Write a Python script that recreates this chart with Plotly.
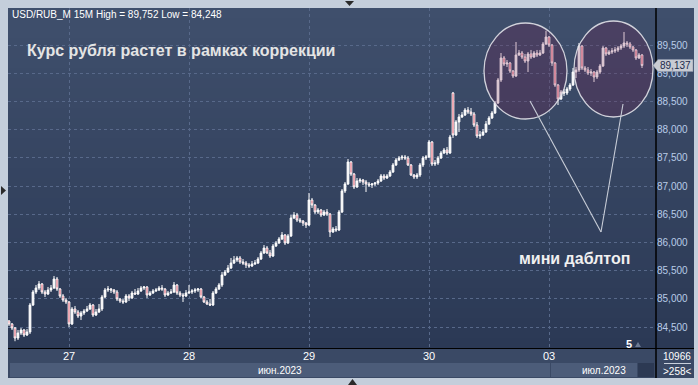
import plotly.graph_objects as go

# ---------------- data (USD/RUB_M, 15M candles) ----------------
opens = [
    84.607, 84.554, 84.483, 84.305, 84.394, 84.447, 84.358, 84.412, 84.890, 85.121,
    85.192, 85.263, 85.121, 85.085, 85.156, 85.192, 85.351, 85.174, 85.050, 84.979,
    84.944, 84.554, 84.819, 84.766, 84.695, 84.749, 84.784, 84.819, 84.890, 84.713,
    84.766, 84.819, 85.032, 85.156, 85.174, 85.156, 85.121, 84.997, 84.961, 84.944,
    85.050, 85.015, 85.103, 85.085, 85.139, 85.192, 85.210, 85.068, 85.103, 85.139,
    85.156, 85.192, 85.174, 85.068, 85.103, 85.121, 85.245, 85.103, 85.068, 85.050,
    85.103, 85.121, 85.139, 85.156, 85.174, 85.032, 84.944, 84.908, 84.890, 85.103,
    85.174, 85.245, 85.422, 85.475, 85.546, 85.635, 85.688, 85.724, 85.653, 85.635,
    85.600, 85.582, 85.617, 85.635, 85.706, 85.812, 85.901, 85.812, 85.759, 85.936,
    85.990, 86.061, 86.131, 85.990, 86.114, 86.433, 86.486, 86.397, 86.380, 86.344,
    86.309, 86.752, 86.663, 86.539, 86.575, 86.486, 86.539, 86.504, 86.185, 86.238,
    86.220, 86.539, 86.912, 87.036, 87.426, 87.213, 86.983, 87.089, 87.107, 87.071,
    87.036, 87.018, 87.036, 87.053, 87.089, 87.178, 87.142, 87.178, 87.248, 87.373,
    87.461, 87.497, 87.514, 87.497, 87.373, 87.195, 87.160, 87.195, 87.373, 87.497,
    87.514, 87.780, 87.390, 87.408, 87.497, 87.585, 87.639, 87.585, 88.649, 87.905,
    88.135, 88.224, 88.259, 88.348, 88.312, 88.277, 88.082, 87.887, 87.905, 87.958,
    88.100, 88.206, 88.295, 88.472, 88.880, 89.270, 89.163, 89.181, 89.039, 88.951,
    89.323, 89.358, 89.287, 89.216, 89.341, 89.287, 89.358, 89.323, 89.358, 89.518,
    89.642, 89.500, 89.181, 88.791, 88.543, 88.667, 88.649, 88.720, 88.791, 89.021,
    89.057, 89.482, 89.092, 89.057, 89.004, 89.021, 88.933, 89.021, 89.128, 89.447,
    89.341, 89.376, 89.394, 89.412, 89.447, 89.482, 89.536, 89.518, 89.465, 89.412,
    89.270, 89.323,
]
highs = [
    84.624, 84.571, 84.500, 84.447, 84.483, 84.465, 84.465, 84.926, 85.156, 85.245,
    85.316, 85.280, 85.156, 85.210, 85.245, 85.405, 85.387, 85.192, 85.085, 85.015,
    84.961, 84.855, 84.873, 84.802, 84.784, 84.819, 84.873, 84.926, 84.908, 84.819,
    84.908, 85.068, 85.192, 85.227, 85.192, 85.174, 85.156, 85.015, 84.997, 85.085,
    85.085, 85.139, 85.174, 85.192, 85.227, 85.227, 85.227, 85.139, 85.174, 85.192,
    85.227, 85.245, 85.192, 85.139, 85.174, 85.298, 85.263, 85.139, 85.103, 85.156,
    85.245, 85.174, 85.192, 85.192, 85.192, 85.050, 84.979, 84.997, 85.139, 85.210,
    85.280, 85.475, 85.511, 85.600, 85.724, 85.759, 85.759, 85.759, 85.706, 85.670,
    85.635, 85.670, 85.688, 85.741, 85.848, 85.954, 85.936, 85.866, 85.972, 86.025,
    86.096, 86.185, 86.149, 86.149, 86.486, 86.539, 86.522, 86.433, 86.397, 86.362,
    86.876, 86.788, 86.681, 86.610, 86.592, 86.575, 86.592, 86.522, 86.273, 86.291,
    86.575, 86.947, 87.071, 87.479, 87.444, 87.231, 87.142, 87.142, 87.124, 87.107,
    87.071, 87.053, 87.071, 87.124, 87.213, 87.213, 87.213, 87.284, 87.408, 87.497,
    87.532, 87.550, 87.550, 87.532, 87.390, 87.213, 87.231, 87.408, 87.532, 87.550,
    87.816, 87.798, 87.461, 87.532, 87.621, 87.674, 87.692, 87.905, 88.667, 88.170,
    88.277, 88.312, 88.383, 88.401, 88.383, 88.312, 88.135, 87.975, 88.011, 88.153,
    88.241, 88.330, 88.507, 88.915, 89.358, 89.305, 89.234, 89.199, 89.057, 89.553,
    89.412, 89.394, 89.341, 89.376, 89.412, 89.394, 89.412, 89.412, 89.553, 89.752,
    89.660, 89.518, 89.199, 88.809, 88.702, 88.720, 88.755, 88.826, 89.092, 89.110,
    89.536, 89.500, 89.128, 89.110, 89.075, 89.039, 89.057, 89.163, 89.482, 89.465,
    89.412, 89.447, 89.465, 89.482, 89.518, 89.731, 89.571, 89.553, 89.482, 89.429,
    89.358, 89.341,
]
lows = [
    84.518, 84.447, 84.248, 84.270, 84.358, 84.323, 84.341, 84.376, 84.873, 85.085,
    85.156, 85.085, 85.032, 85.068, 85.121, 85.174, 85.139, 85.015, 84.944, 84.908,
    84.500, 84.536, 84.731, 84.660, 84.624, 84.713, 84.766, 84.802, 84.678, 84.695,
    84.749, 84.784, 85.015, 85.121, 85.103, 85.085, 84.961, 84.926, 84.908, 84.926,
    84.961, 84.997, 85.068, 85.068, 85.121, 85.156, 85.015, 85.050, 85.085, 85.121,
    85.139, 85.139, 85.032, 85.050, 85.085, 85.103, 85.068, 85.032, 84.944, 85.032,
    85.085, 85.085, 85.103, 85.121, 85.015, 84.926, 84.890, 84.873, 84.873, 85.085,
    85.156, 85.210, 85.405, 85.458, 85.529, 85.617, 85.653, 85.617, 85.600, 85.546,
    85.546, 85.564, 85.600, 85.617, 85.688, 85.795, 85.795, 85.724, 85.741, 85.919,
    85.972, 86.043, 85.954, 85.972, 86.096, 86.415, 86.362, 86.344, 86.291, 86.256,
    86.291, 86.610, 86.504, 86.504, 86.451, 86.468, 86.468, 86.096, 86.167, 86.185,
    86.202, 86.522, 86.876, 87.018, 87.178, 86.947, 86.965, 87.053, 87.018, 86.894,
    86.983, 86.965, 87.000, 87.018, 87.071, 87.107, 87.124, 87.160, 87.231, 87.355,
    87.444, 87.461, 87.461, 87.355, 87.178, 87.124, 87.124, 87.160, 87.337, 87.461,
    87.497, 87.355, 87.355, 87.373, 87.479, 87.568, 87.550, 87.568, 87.851, 87.887,
    87.958, 88.206, 88.241, 88.277, 88.241, 88.046, 87.851, 87.834, 87.887, 87.940,
    88.082, 88.188, 88.277, 88.454, 88.844, 89.128, 89.110, 89.004, 88.915, 88.933,
    89.305, 89.252, 89.181, 89.021, 89.252, 89.270, 89.287, 89.305, 89.341, 89.500,
    89.465, 89.128, 88.756, 88.436, 88.525, 88.596, 88.614, 88.685, 88.773, 88.915,
    89.021, 89.057, 89.021, 88.968, 88.951, 88.844, 88.897, 88.986, 89.110, 89.305,
    89.323, 89.341, 89.358, 89.376, 89.412, 89.447, 89.465, 89.429, 89.376, 89.234,
    89.252, 89.092,
]
closes = [
    84.554, 84.483, 84.305, 84.394, 84.447, 84.358, 84.412, 84.890, 85.121, 85.192,
    85.263, 85.121, 85.085, 85.156, 85.192, 85.351, 85.174, 85.050, 84.979, 84.944,
    84.554, 84.819, 84.766, 84.695, 84.749, 84.784, 84.819, 84.890, 84.713, 84.766,
    84.819, 85.032, 85.156, 85.174, 85.156, 85.121, 84.997, 84.961, 84.944, 85.050,
    85.015, 85.103, 85.085, 85.139, 85.192, 85.210, 85.068, 85.103, 85.139, 85.156,
    85.192, 85.174, 85.068, 85.103, 85.121, 85.245, 85.103, 85.068, 85.050, 85.103,
    85.121, 85.139, 85.156, 85.174, 85.032, 84.944, 84.908, 84.890, 85.103, 85.174,
    85.245, 85.422, 85.475, 85.546, 85.635, 85.688, 85.724, 85.653, 85.635, 85.600,
    85.582, 85.617, 85.635, 85.706, 85.812, 85.901, 85.812, 85.759, 85.936, 85.990,
    86.061, 86.131, 85.990, 86.114, 86.433, 86.486, 86.397, 86.380, 86.344, 86.309,
    86.752, 86.663, 86.539, 86.575, 86.486, 86.539, 86.504, 86.185, 86.238, 86.220,
    86.539, 86.912, 87.036, 87.426, 87.213, 86.983, 87.089, 87.107, 87.071, 87.036,
    87.018, 87.036, 87.053, 87.089, 87.178, 87.142, 87.178, 87.248, 87.373, 87.461,
    87.497, 87.514, 87.497, 87.373, 87.195, 87.160, 87.195, 87.373, 87.497, 87.514,
    87.780, 87.390, 87.408, 87.497, 87.585, 87.639, 87.585, 87.869, 87.905, 88.135,
    88.224, 88.259, 88.348, 88.312, 88.277, 88.082, 87.887, 87.905, 87.958, 88.100,
    88.206, 88.295, 88.472, 88.880, 89.270, 89.163, 89.181, 89.039, 88.951, 89.323,
    89.358, 89.287, 89.216, 89.341, 89.287, 89.358, 89.323, 89.358, 89.518, 89.642,
    89.500, 89.181, 88.791, 88.543, 88.667, 88.649, 88.720, 88.791, 89.021, 89.057,
    89.482, 89.092, 89.057, 89.004, 89.021, 88.933, 89.021, 89.128, 89.447, 89.341,
    89.376, 89.394, 89.412, 89.447, 89.482, 89.536, 89.518, 89.465, 89.412, 89.270,
    89.323, 89.137,
]
candle_idx = list(range(len(closes)))

day_start = [20, 60, 100, 140, 180]
day_labels = ["27", "28", "29", "30", "03"]
month_labels = ["июн.2023", "июл.2023"]
y_ticks = [84.5, 85.0, 85.5, 86.0, 86.5, 87.0, 87.5, 88.0, 88.5, 89.0, 89.5]
header = "USD/RUB_M 15M High = 89,752 Low = 84,248"
caption = "Курс рубля растет в рамках коррекции"
pattern_label = "мини даблтоп"
bar_count = "10966"
visible_count = ">258<"
page_no = "5"

# ---------------- layout helpers (pixel -> paper) ----------------
W, H = 698, 385
ML, MR, MT, MB = 8, 42, 8, 37
PW, PH = W - ML - MR, H - MT - MB


def fx(x):
    return (x - ML) / PW


def fy(y):
    return (H - MB - y) / PH


FONT = "Liberation Sans, Arial, sans-serif"
shapes = []


def rect(x0, y0, x1, y1, color, layer="below"):
    shapes.append(dict(type="rect", xref="paper", yref="paper",
                       x0=fx(x0), x1=fx(x1), y0=fy(y1), y1=fy(y0),
                       fillcolor=color, line=dict(width=0), layer=layer))


def seg(x0, y0, x1, y1, color, width=1, layer="above"):
    shapes.append(dict(type="line", xref="paper", yref="paper",
                       x0=fx(x0), x1=fx(x1), y0=fy(y0), y1=fy(y1),
                       line=dict(color=color, width=width), layer=layer))


def tri(pts, color):
    d = "M " + " L ".join(f"{fx(a):.5f},{fy(b):.5f}" for a, b in pts) + " Z"
    shapes.append(dict(type="path", xref="paper", yref="paper", path=d,
                       fillcolor=color, line=dict(width=0), layer="above"))


# gradient background for plot area + right axis panel
top_c, bot_c = (63, 79, 108), (43, 57, 85)
n = 34
for k in range(n):
    t = k / (n - 1)
    c = tuple(round(top_c[j] + (bot_c[j] - top_c[j]) * t) for j in range(3))
    y0 = MT + k * PH / n
    rect(ML, y0, 694, y0 + PH / n + 0.6, f"rgb{c}")

# bottom axis panel
rect(ML, 348, 694, 378, "#3a4965")
rect(10, 363, 550, 377, "#4c5c79")
rect(551, 363, 637, 377, "#4c5c79")
rect(638, 363, 654, 377, "#2c3953")

# frame lines
seg(656, 8, 656, 378, "#000000", 1.5)
seg(ML, 348.5, 694, 348.5, "#000000", 1.2)
seg(664, 363.5, 691, 363.5, "#c8d0dc", 1)

# circles (double top) and pointer lines
for (cx0, cy0, cx1, cy1) in [(484, 23, 567, 119), (574, 21, 653, 117)]:
    shapes.append(dict(type="circle", xref="paper", yref="paper",
                       x0=fx(cx0), x1=fx(cx1), y0=fy(cy1), y1=fy(cy0),
                       fillcolor="rgba(120,20,70,0.22)",
                       line=dict(color="rgba(225,225,232,0.9)", width=1.3),
                       layer="above"))
seg(530, 101, 601, 232, "#c9ced8", 1.1)
seg(623, 104, 601, 232, "#c9ced8", 1.1)

# small navigation triangles
tri([(345, 1), (354, 1), (349.5, 6)], "#2a2a2a")
tri([(348, 385), (357, 385), (352.5, 379)], "#2a2a2a")
tri([(1, 186), (1, 195), (6, 190.5)], "#2a2a2a")
tri([(635, 347), (641, 347), (638, 342)], "#6c7a93")

# last price tag (tied to data)
last = closes[-1]
ppx = (90.156 - 84.128) / PH  # price per pixel
shapes.append(dict(type="path", xref="paper", yref="y",
                   path=(f"M {fx(653):.5f},{last:.4f} L {fx(658):.5f},{last + 6 * ppx:.4f} "
                         f"L {fx(693):.5f},{last + 6 * ppx:.4f} L {fx(693):.5f},{last - 6 * ppx:.4f} "
                         f"L {fx(658):.5f},{last - 6 * ppx:.4f} Z"),
                   fillcolor="#c9ccd3", line=dict(color="#8c96aa", width=0.6), layer="above"))

annotations = [
    dict(x=fx(10), y=fy(14.5), text=header, xanchor="left", yanchor="middle",
         font=dict(family=FONT, size=10, color="#ffffff")),
    dict(x=fx(25), y=fy(50), text=caption, xanchor="left", yanchor="middle",
         font=dict(family=FONT, size=16, color="#e4e4e4", weight="bold")),
    dict(x=fx(517), y=fy(258), text=pattern_label, xanchor="left", yanchor="middle",
         font=dict(family=FONT, size=16, color="#f0f0f0", weight="bold")),
    dict(x=fx(280), y=fy(370.5), text=month_labels[0], xanchor="center", yanchor="middle",
         font=dict(family=FONT, size=10, color="#ffffff")),
    dict(x=fx(604), y=fy(370.5), text=month_labels[1], xanchor="center", yanchor="middle",
         font=dict(family=FONT, size=10, color="#ffffff")),
    dict(x=fx(677), y=fy(357), text=bar_count, xanchor="center", yanchor="middle",
         font=dict(family=FONT, size=10, color="#ffffff")),
    dict(x=fx(677), y=fy(371), text=visible_count, xanchor="center", yanchor="middle",
         font=dict(family=FONT, size=10, color="#ffffff")),
    dict(x=fx(629), y=fy(344), text=page_no, xanchor="center", yanchor="middle",
         font=dict(family=FONT, size=11, color="#ffffff", weight="bold")),
    dict(x=fx(675.5), xref="paper", y=last, yref="y",
         text=f"{last:.3f}".replace(".", ","), xanchor="center", yanchor="middle",
         font=dict(family=FONT, size=10, color="#1c2a4c")),
]
for a in annotations:
    a.setdefault("xref", "paper")
    a.setdefault("yref", "paper")
    a["showarrow"] = False

fig = go.Figure(go.Candlestick(
    x=candle_idx, open=opens, high=highs, low=lows, close=closes,
    increasing=dict(line=dict(color="#ffffff", width=1), fillcolor="#ffffff"),
    decreasing=dict(line=dict(color="#ffffff", width=1), fillcolor="#e3122f"),
    whiskerwidth=0, hoverinfo="skip", showlegend=False,
))

fig.update_layout(
    width=W, height=H,
    margin=dict(l=ML, r=MR, t=MT, b=MB),
    paper_bgcolor="#c4cedb",
    plot_bgcolor="rgba(0,0,0,0)",
    separators=",.",
    boxgap=0.18,
    showlegend=False,
    shapes=shapes,
    annotations=annotations,
    font=dict(family=FONT, size=11, color="#ffffff"),
    xaxis=dict(range=[-1 / 3, (PW / 3) - 1 / 3], tickmode="array",
               tickvals=day_start, ticktext=day_labels,
               showgrid=True, gridcolor="#58698a", griddash="3px,3px", gridwidth=1,
               ticks="", showline=False, zeroline=False,
               tickfont=dict(family=FONT, size=11, color="#ffffff"),
               rangeslider=dict(visible=False), fixedrange=True),
    yaxis=dict(range=[84.128, 90.156], side="right", tickmode="array",
               tickvals=y_ticks, tickformat=".3f",
               showgrid=True, gridcolor="#58698a", griddash="3px,3px", gridwidth=1,
               ticks="", showline=False, zeroline=False,
               tickfont=dict(family=FONT, size=10, color="#b9cce8"),
               fixedrange=True),
)

fig.write_html("out.html", config={"displayModeBar": False},
               post_script="document.body.style.margin='0';document.body.style.overflow='hidden';")
